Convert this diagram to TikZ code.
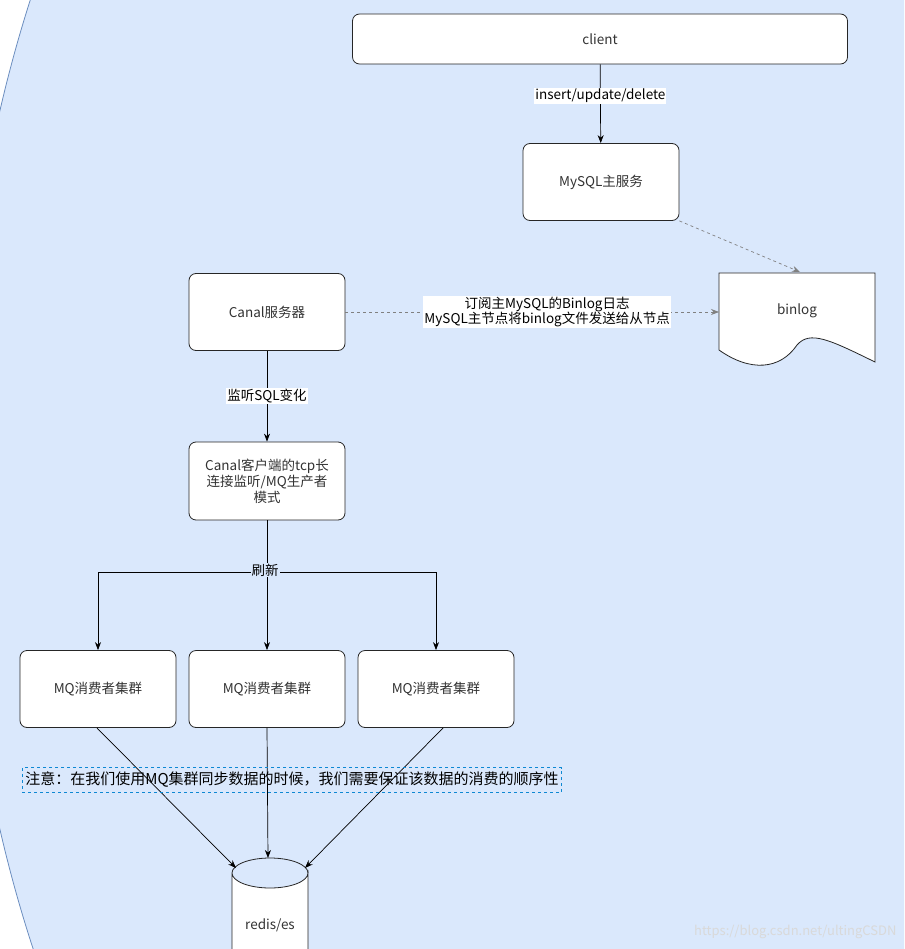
\documentclass[tikz,border=0pt]{standalone}
\usepackage{fontspec}
\setmainfont{Noto Sans CJK SC}
\usetikzlibrary{shapes.geometric,arrows.meta}
\definecolor{bgfill}{HTML}{DAE8FC}
\definecolor{bgline}{HTML}{6C8EBF}
\begin{document}
\begin{tikzpicture}[x=1pt,y=-1pt,
  box/.style={draw=black!85,fill=white,rounded corners=7pt,line width=0.8pt,align=center,font=\fontsize{13.5}{16}\selectfont,text=black!80,inner sep=2pt},
  arr/.style={-{Stealth[length=8pt,width=6pt]},line width=0.7pt},
  darr/.style={-{Stealth[length=8pt,width=6pt]},line width=0.7pt,dashed,draw=black!50},
  lbl/.style={fill=white,font=\fontsize{13.5}{15}\selectfont,inner sep=1pt,align=center}]
\useasboundingbox (0,0) rectangle (904,949);
\begin{scope}
\clip (0,0) rectangle (904,949);
\draw[fill=bgfill,draw=bgline,line width=0.8pt] (560,470) ellipse [x radius=600,y radius=1000];
\end{scope}
\node[box,minimum width=495pt,minimum height=50pt] (client) at (600,39) {client};
\node[box,minimum width=156pt,minimum height=77pt] (mysql) at (601,182) {MySQL主服务};
\node[box,minimum width=156pt,minimum height=77pt] (canal) at (267,312) {Canal服务器};
\node[box,minimum width=156pt,minimum height=78pt] (cc) at (267,481) {Canal客户端的tcp长\\连接监听/MQ生产者\\模式};
\node[box,minimum width=156pt,minimum height=77pt] (mq1) at (98,689) {MQ消费者集群};
\node[box,minimum width=156pt,minimum height=77pt] (mq2) at (267,689) {MQ消费者集群};
\node[box,minimum width=156pt,minimum height=77pt] (mq3) at (436,689) {MQ消费者集群};
% binlog document
\draw[fill=white,draw=black!85,line width=0.8pt] (719,273) -- (875,273) -- (875,362)
  .. controls (830,340) and (810,330) .. (797,345)
  .. controls (780,370) and (750,372) .. (719,350) -- cycle;
\node[font=\fontsize{13.5}{16}\selectfont,text=black!80] (binlog) at (797,311) {binlog};
\coordinate (binlogtop) at (800,272);
\coordinate (binlogleft) at (719,312);
% cylinder
\begin{scope}
\clip (0,0) rectangle (904,949);
\draw[fill=white,draw=black!85,line width=0.8pt] (232,873) -- (232,960) -- (308,960) -- (308,873) arc[start angle=0,end angle=180,x radius=38,y radius=15];
\draw[draw=black!85,line width=0.8pt] (232,873) arc[start angle=180,end angle=360,x radius=38,y radius=15];
\end{scope}
\node[font=\fontsize{13.5}{16}\selectfont,text=black!80] (redis) at (270,925) {redis/es};
\coordinate (rtop) at (268,858);
\coordinate (rl) at (236,868);
\coordinate (rr) at (305,868);
% edges
\draw[arr] (client) -- (mysql) node[lbl,pos=0.4] {insert/update/delete};
\draw[darr] (mysql.south east) -- (binlogtop);
\draw[darr] (canal) -- (binlogleft) node[lbl,pos=0.54] {订阅主MySQL的Binlog日志\\MySQL主节点将binlog文件发送给从节点};
\draw[arr] (canal) -- (cc) node[lbl,pos=0.5] {监听SQL变化};
\draw[line width=0.7pt] (cc.south) -- (267,572) coordinate (split);
\draw[arr] (split) -| (mq1.north);
\draw[arr] (split) -| (mq3.north);
\draw[arr] (split) -- (mq2.north);
\node[lbl,fill=bgfill] (shua) at (265,570) {刷新};
\draw[arr] (97,728) -- (rl);
\draw[arr] (mq2.south) -- (rtop);
\draw[arr] (443,728) -- (rr);
\node[draw=cyan!70!blue,dashed,line width=0.6pt,anchor=east,font=\fontsize{15}{17}\selectfont,minimum height=25pt,inner sep=3pt] (note) at (562,780) {注意：在我们使用MQ集群同步数据的时候，我们需要保证该数据的消费的顺序性};
\node[anchor=south east,text=white!70!gray,font=\fontsize{13}{15}\selectfont] (wm) at (900,942) {https://blog.csdn.net/ultingCSDN};
\end{tikzpicture}
\end{document}
